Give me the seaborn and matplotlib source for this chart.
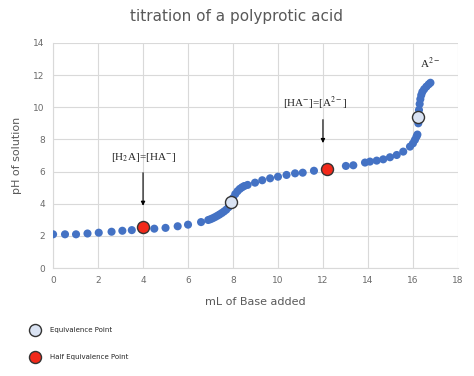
import matplotlib
matplotlib.use('Agg')
import matplotlib.pyplot as plt
import seaborn as sns
import pandas as pd

# titration curve
ml_base = [0, 0.53, 1.02, 1.53, 2.03, 2.6, 3.08, 3.5, 4.5, 5.0, 5.54, 6.0, 6.58,
           6.9, 7.0, 7.1, 7.2, 7.3, 7.4, 7.5, 7.6, 7.7, 7.8,
           8.0, 8.1, 8.2, 8.3, 8.4, 8.5, 8.65, 8.98, 9.3, 9.65, 10.0, 10.38,
           10.76, 11.1, 11.6, 13.02, 13.35, 13.87, 14.09, 14.39, 14.68, 14.98,
           15.28, 15.57, 15.87, 16.0, 16.09, 16.16, 16.2, 16.24, 16.27, 16.3,
           16.33, 16.37, 16.42, 16.5, 16.6, 16.7, 16.78]
ph = [2.1, 2.1, 2.1, 2.15, 2.2, 2.26, 2.32, 2.36, 2.45, 2.5, 2.6, 2.7, 2.86,
      2.99, 3.04, 3.1, 3.17, 3.25, 3.33, 3.42, 3.52, 3.63, 3.78,
      4.35, 4.6, 4.78, 4.92, 5.02, 5.1, 5.17, 5.31, 5.46, 5.58, 5.68, 5.79,
      5.89, 5.93, 6.05, 6.35, 6.39, 6.56, 6.62, 6.68, 6.76, 6.89,
      7.03, 7.24, 7.55, 7.75, 7.97, 8.17, 8.3, 9.0, 9.83, 10.2,
      10.5, 10.75, 10.95, 11.12, 11.28, 11.42, 11.52]

eq_ml = [7.9, 16.24]
eq_ph = [4.13, 9.38]
half_ml = [4.02, 12.16]
half_ph = [2.53, 6.16]

sns.set_style('whitegrid')
plt.rcParams['font.family'] = ['DejaVu Sans']
plt.rcParams['mathtext.fontset'] = 'stix'

fig = plt.figure(figsize=(4.74, 3.76), dpi=100)
ax = fig.add_axes([0.112, 0.287, 0.854, 0.599])

df = pd.DataFrame({'ml': ml_base, 'ph': ph})
sns.scatterplot(data=df, x='ml', y='ph', ax=ax, color='#4472C4', s=34,
                edgecolor='none', zorder=3)
eq = ax.scatter(eq_ml, eq_ph, s=75, color='#DAE3F3', edgecolor='#333333',
                linewidth=1, zorder=4, label='Equivalence Point')
half = ax.scatter(half_ml, half_ph, s=75, color='#F2291A', edgecolor='#333333',
                  linewidth=1, zorder=4, label='Half Equivalence Point')

ax.set_xlim(0, 18)
ax.set_ylim(0, 14)
ax.set_xticks(range(0, 19, 2))
ax.set_yticks(range(0, 15, 2))
ax.tick_params(labelsize=6.5, colors='#6b6b6b', length=0, pad=6)
ax.grid(color='#D9D9D9', linewidth=0.8)
for s in ax.spines.values():
    s.set_visible(False)
ax.spines['left'].set_visible(True)
ax.spines['bottom'].set_visible(True)
ax.spines['left'].set_color('#D9D9D9')
ax.spines['bottom'].set_color('#D9D9D9')

ax.set_xlabel('mL of Base added', fontsize=8, color='#595959', labelpad=8)
ax.set_ylabel('pH of solution', fontsize=8, color='#595959', labelpad=8)
fig.text(0.5, 0.955, 'titration of a polyprotic acid', ha='center', va='center',
         fontsize=11, color='#595959')

serif = 'Liberation Serif'
ax.text(4.0, 6.85, '[H$_2$A]=[HA$^{-}$]', ha='center', va='center', fontsize=8,
        family=serif, color='#222222')
ax.annotate('', xy=(4.0, 3.7), xytext=(4.0, 6.1),
            arrowprops=dict(arrowstyle='-|>', color='black', lw=0.8,
                            mutation_scale=6))
ax.text(11.65, 10.25, '[HA$^{-}$]=[A$^{2-}$]', ha='center', va='center', fontsize=8,
        family=serif, color='#222222')
ax.annotate('', xy=(12.0, 7.6), xytext=(12.0, 9.4),
            arrowprops=dict(arrowstyle='-|>', color='black', lw=0.8,
                            mutation_scale=6))
ax.text(16.76, 12.75, 'A$^{2-}$', ha='center', va='center', fontsize=8,
        family=serif, color='#222222')

fig.legend(handles=[eq, half], loc='upper left', bbox_to_anchor=(0.045, 0.148),
           frameon=False, fontsize=5, labelspacing=3.1, handletextpad=1.2,
           markerscale=1.0)

fig.savefig('out.png', dpi=100)
